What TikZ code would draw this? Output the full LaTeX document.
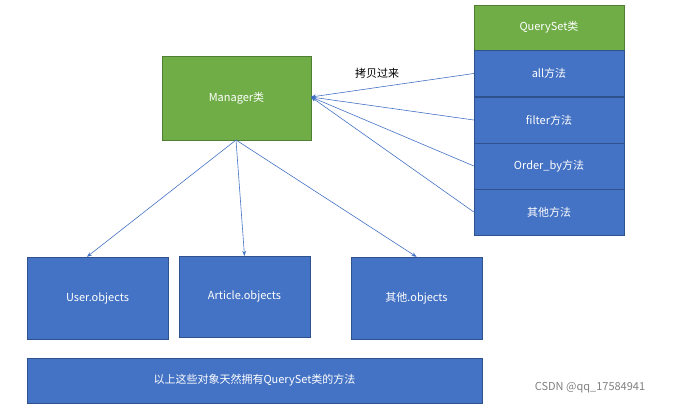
\documentclass[tikz,border=0pt]{standalone}
\usepackage{fontspec}
\setmainfont{Noto Sans CJK SC}
\usetikzlibrary{arrows.meta}
\definecolor{gr}{HTML}{70AD47}
\definecolor{grd}{HTML}{507E32}
\definecolor{bl}{HTML}{4472C4}
\definecolor{bld}{HTML}{2F528F}
\begin{document}
\begin{tikzpicture}[x=1pt,y=-1pt,
 box/.style={draw=bld,fill=bl,text=white,font=\fontsize{11}{13}\selectfont,inner sep=0pt},
 gbox/.style={draw=grd,fill=gr,text=white,font=\fontsize{11}{13}\selectfont,inner sep=0pt},
 arr/.style={draw=bl,-{Stealth[length=5pt,width=4pt]},line width=0.6pt}]
\useasboundingbox (0,0) rectangle (692,409);
\node[gbox,minimum width=149pt,minimum height=84pt] (m) at (236.5,98) {Manager类};
\node[gbox,minimum width=150pt,minimum height=45pt] (q) at (549,27.5) {QuerySet类};
\node[box,minimum width=150pt,minimum height=46pt] (a) at (549,73.5) {all方法};
\node[box,minimum width=150pt,minimum height=46pt] (f) at (549,120) {filter方法};
\node[box,minimum width=150pt,minimum height=46pt] (o) at (549,166) {Order\_by方法};
\node[box,minimum width=150pt,minimum height=46pt] (e) at (549,212) {其他方法};
\node[box,minimum width=141pt,minimum height=82pt] (u) at (97.5,298) {User.objects};
\node[box,minimum width=131pt,minimum height=81pt] (ar) at (244.5,296.5) {Article.objects};
\node[box,minimum width=131pt,minimum height=82pt] (ot) at (416.5,298) {其他.objects};
\node[box,minimum width=455pt,minimum height=45pt] (b) at (254.5,380.5) {以上这些对象天然拥有QuerySet类的方法};
\coordinate (mt) at (311,97);
\coordinate (mb) at (236,140);
\foreach \n in {a,f,o,e} \draw[arr] (\n.west) -- (mt);
\draw[arr] (mb) -- (u.north -| 87,0);
\draw[arr] (mb) -- (ar.north);
\draw[arr] (mb) -- (ot.north);
\node[font=\fontsize{11}{13}\selectfont] (l) at (377,73) {拷贝过来};
\node[text=gray,font=\fontsize{11}{13}\selectfont] (w) at (590,388) {CSDN @qq\_17584941};
\end{tikzpicture}
\end{document}
